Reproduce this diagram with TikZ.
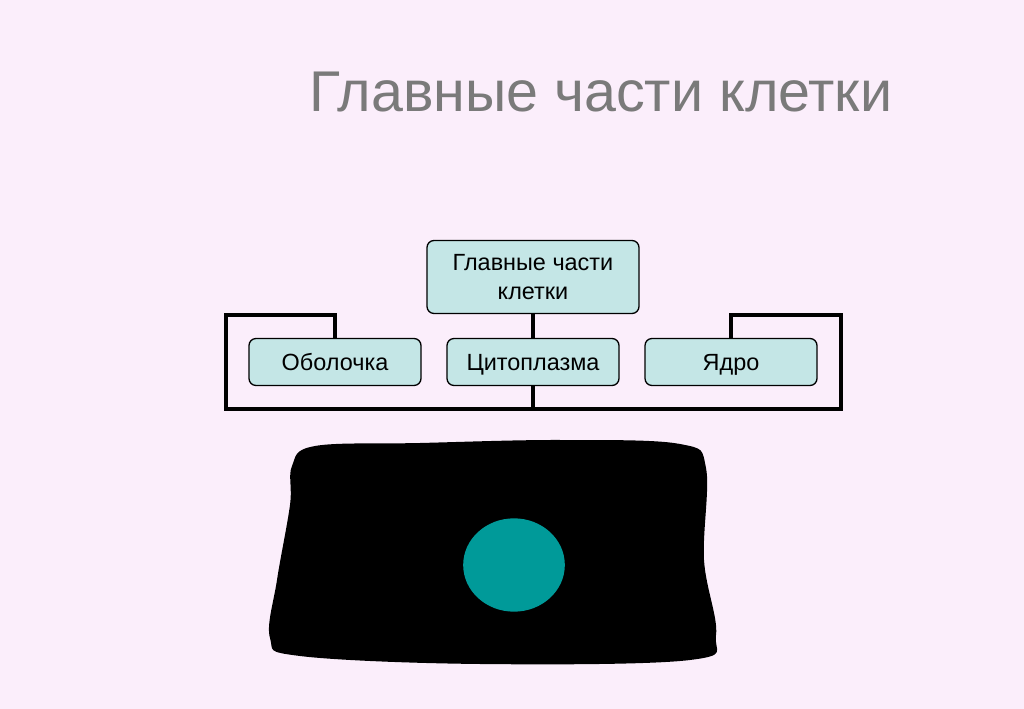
\documentclass[tikz,border=0pt]{standalone}
\usepackage{fontspec}
\setmainfont{Liberation Sans}
\usetikzlibrary{positioning,shapes.geometric}
\definecolor{bgpink}{HTML}{FBEEFB}
\definecolor{boxfill}{HTML}{C4E6E6}
\definecolor{nucleus}{HTML}{009A99}
\definecolor{titlegray}{HTML}{7A7A7A}
\tikzset{part/.style={draw, rounded corners=6pt, fill=boxfill, line width=1.1pt,
    minimum width=5.16cm, minimum height=1.41cm, font=\fontsize{20}{24}\selectfont, align=center}}

\begin{document}
\begin{tikzpicture}[x=0.03cm, y=-0.03cm, line width=3pt]
      \fill[bgpink] (0,0) rectangle (1024,709);
      \useasboundingbox (0,0) rectangle (1024,709);

      \node (title) at (601,92) [text=titlegray, font=\fontsize{49}{58}\selectfont] {Главные части клетки};

      \node (main) at (533,277) [part, minimum width=6.36cm, minimum height=2.19cm]
      {Главные части\\клетки};
      \node (shell) at (335,362) [part, text height=15pt, text depth=1pt] {Оболочка};
      \node (cyto) at (533,362) [part, text height=15pt, text depth=1pt] {Цитоплазма};
      \node (core) at (731,362) [part, text height=15pt, text depth=1pt] {Ядро};

      \coordinate (lt) at (226,315);
      \coordinate (lb) at (226,409);
      \coordinate (rt) at (841,315);
      \coordinate (rb) at (841,409);

      \draw (main) -- (cyto);
      \draw (shell.north) |- (lt) -- (lb) -- (rb) -- (rt) -| (core.north);
      \draw (cyto.south) -- (cyto.south |- lb);

      % cell
      \fill[black] plot[smooth cycle, tension=0.6] coordinates {
        (315,446) (420,443) (560,440) (680,444) (706,468) (704,560)
        (716,635) (690,660) (480,664) (300,656) (270,638) (277,580)
        (290,505) (292,466)};
      \node (nuc) at (514,565) [ellipse, fill=nucleus, minimum width=3.05cm, minimum height=2.8cm, inner sep=0pt] {};
\end{tikzpicture}
\end{document}
